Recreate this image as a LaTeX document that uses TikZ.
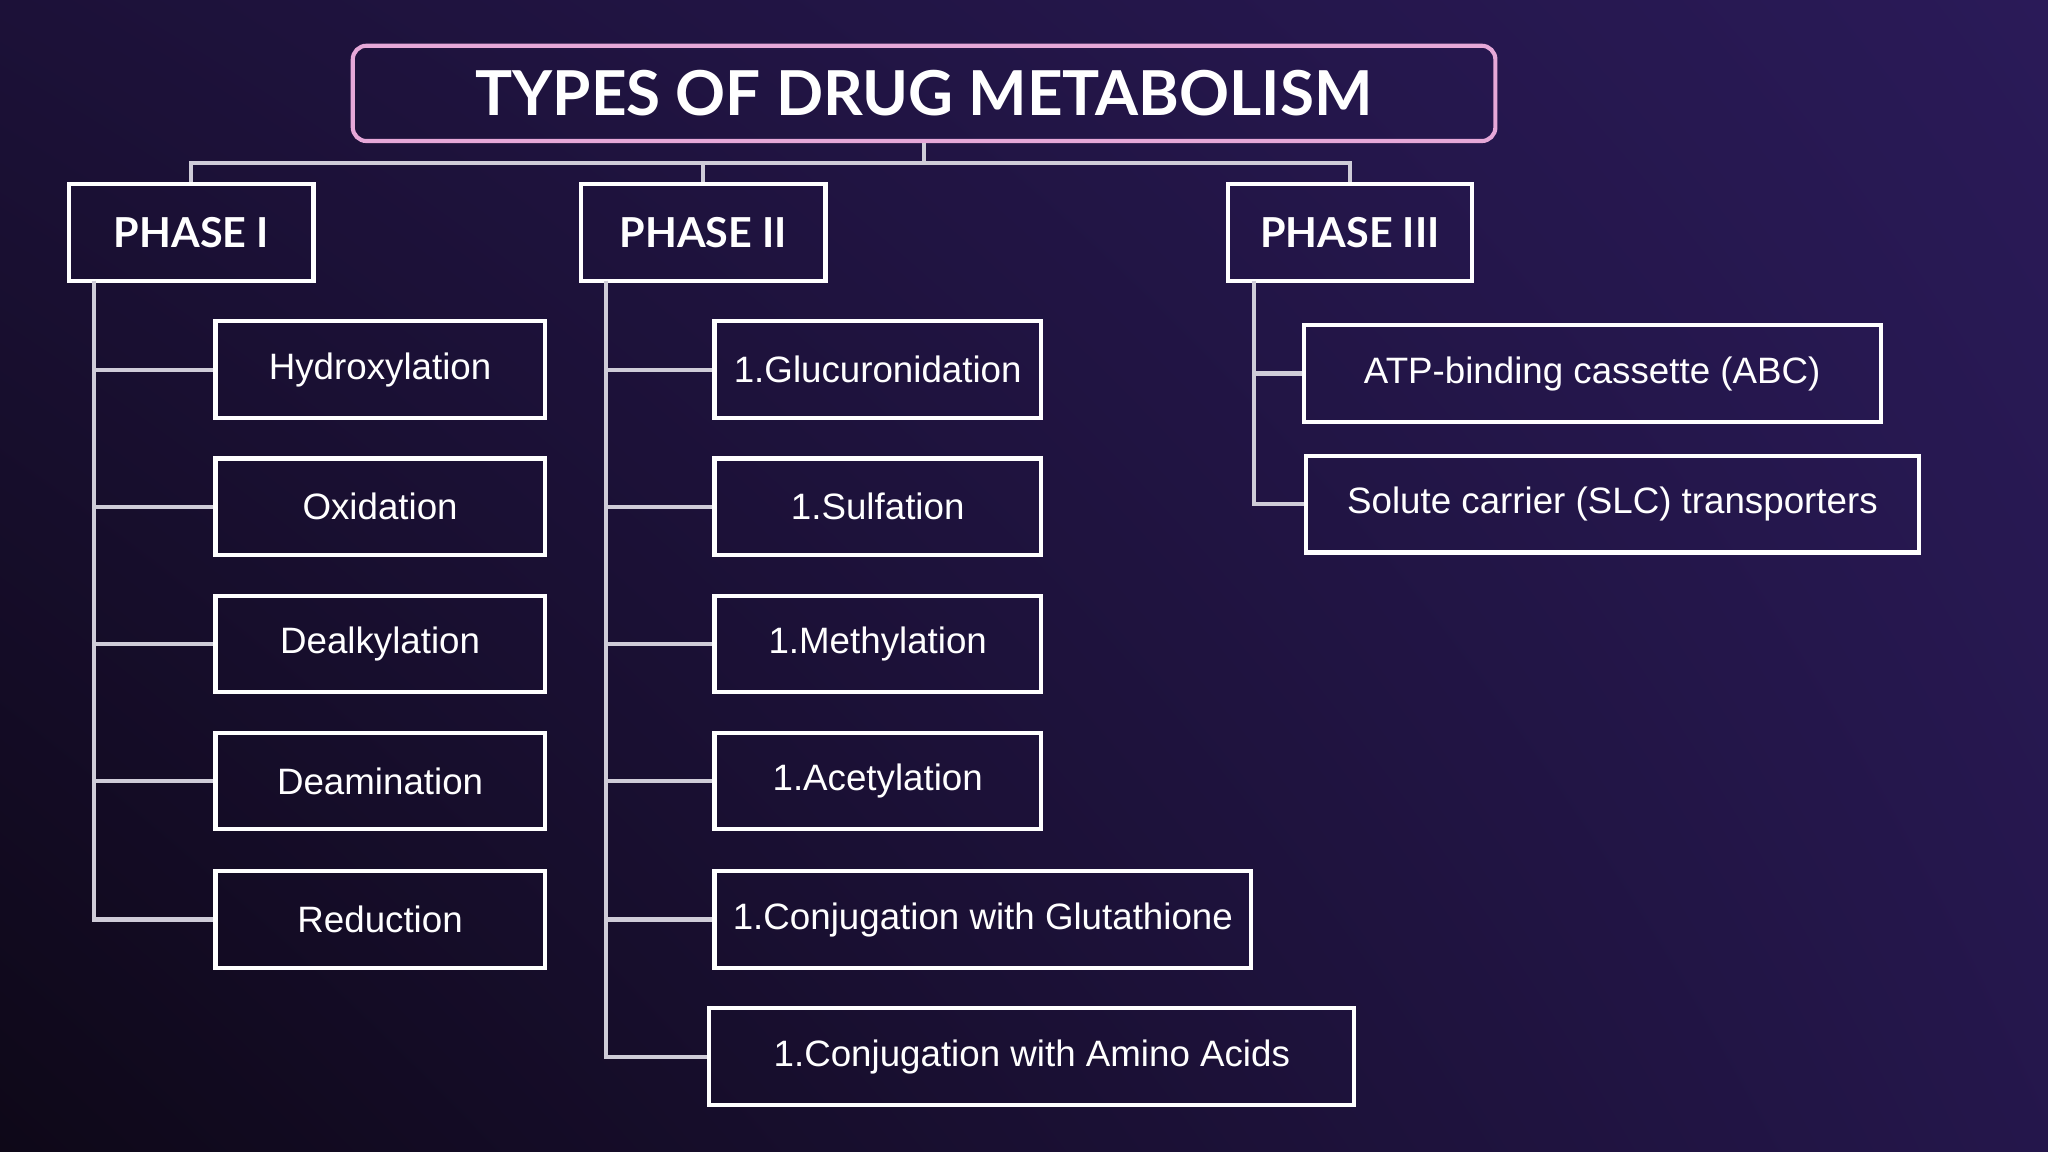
\documentclass[tikz,border=0pt]{standalone}
\usepackage{fontspec}
\usetikzlibrary{shadings}
\setmainfont{Liberation Sans}
\newfontfamily\latofont{Lato}
\definecolor{bgA}{HTML}{0E0818}
\definecolor{bgB}{HTML}{2A1A58}
\definecolor{pinkb}{HTML}{E6A8D8}
\definecolor{linec}{HTML}{CFCCD8}
\tikzset{
 box/.style={draw=white,line width=1.8pt,inner sep=0pt,minimum height=1.48cm,text=white,font=\fontsize{16}{18}\selectfont},
 phasebox/.style={box,minimum width=3.74cm,font=\latofont\bfseries\fontsize{18}{20}\selectfont},
 conn/.style={draw=linec,line width=1.8pt}
}
\begin{document}
\begin{tikzpicture}[x=0.02cm,y=-0.02cm]
\shade[lower left=bgA,upper right=bgB,lower right=bgB!80!bgA,upper left=bgA!50!bgB] (0,0) rectangle (1568,882);
\useasboundingbox (0,0) rectangle (1568,882);
\node[box,draw=pinkb,minimum width=17.5cm,minimum height=1.46cm,rounded corners=6pt,font=\latofont\bfseries\fontsize{27}{30}\selectfont] (t) at (707.5,71.5) {TYPES OF DRUG METABOLISM};
\node[phasebox] (p1) at (146.5,178) {PHASE I};
\node[phasebox] (p2) at (538.5,178) {PHASE II};
\node[phasebox] (p3) at (1033.5,178) {PHASE III};
\coordinate (tj) at (707.5,125);
\draw[conn] (t.south) -- (tj);
\draw[conn] (p1.north) |- (tj) -| (p3.north);
\draw[conn] (p2.north) -- (p2.north |- tj);
% phase I
\foreach \n/\y/\txt in {a/283/Hydroxylation,b/388/Oxidation,c/493/Dealkylation,d/598/Deamination,e/704/Reduction}
 \node[box,minimum width=5.04cm] (h\n) at (291,\y) {\txt};
\coordinate (c1) at (72,215);
\foreach \n in {a,b,c,d,e} \draw[conn] (c1) |- (h\n.west);
% phase II
\foreach \n/\y/\txt in {a/283/1.Glucuronidation,b/388/1.Sulfation,c/493/1.Methylation,d/598/1.Acetylation}
 \node[box,minimum width=5.0cm] (g\n) at (672,\y) {\txt};
\node[box,minimum width=8.22cm] (ge) at (752.5,704) {1.Conjugation with Glutathione};
\node[box,minimum width=9.88cm] (gf) at (790,809) {1.Conjugation with Amino Acids};
\coordinate (c2) at (464,215);
\foreach \n in {a,b,c,d,e,f} \draw[conn] (c2) |- (g\n.west);
% phase III
\node[box,minimum width=8.84cm] (ka) at (1219,286) {ATP-binding cassette (ABC)};
\node[box,minimum width=9.38cm] (kb) at (1234.5,386) {Solute carrier (SLC) transporters};
\coordinate (c3) at (960,215);
\draw[conn] (c3) |- (ka.west);
\draw[conn] (c3) |- (kb.west);
\end{tikzpicture}
\end{document}
